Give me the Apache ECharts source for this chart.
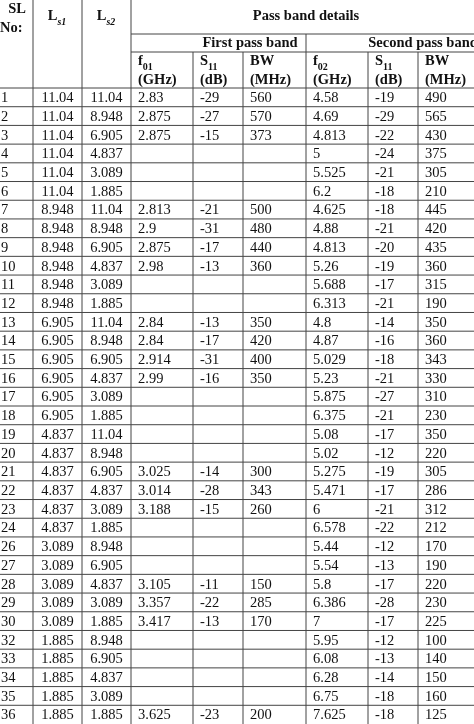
<!DOCTYPE html>
<html>
<head>
<meta charset="utf-8">
<script src="https://cdn.jsdelivr.net/npm/echarts@6/dist/echarts.min.js"></script>
<style>html,body{margin:0;padding:0;background:#fff}#chart{width:474px;height:724px}</style>
</head>
<body>
<div id="chart"></div>
<script>
// table values, one array per column
var slNo = ['1','2','3','4','5','6','7','8','9','10','11','12','13','14','15','16','17','18','19','20','21','22','23','24','26','27','28','29','30','32','33','34','35','36'];
var ls1 = ['11.04','11.04','11.04','11.04','11.04','11.04','8.948','8.948','8.948','8.948','8.948','8.948','6.905','6.905','6.905','6.905','6.905','6.905','4.837','4.837','4.837','4.837','4.837','4.837','3.089','3.089','3.089','3.089','3.089','1.885','1.885','1.885','1.885','1.885'];
var ls2 = ['11.04','8.948','6.905','4.837','3.089','1.885','11.04','8.948','6.905','4.837','3.089','1.885','11.04','8.948','6.905','4.837','3.089','1.885','11.04','8.948','6.905','4.837','3.089','1.885','8.948','6.905','4.837','3.089','1.885','8.948','6.905','4.837','3.089','1.885'];
var f01 = ['2.83','2.875','2.875','','','','2.813','2.9','2.875','2.98','','','2.84','2.84','2.914','2.99','','','','','3.025','3.014','3.188','','','','3.105','3.357','3.417','','','','','3.625'];
var s11First = ['-29','-27','-15','','','','-21','-31','-17','-13','','','-13','-17','-31','-16','','','','','-14','-28','-15','','','','-11','-22','-13','','','','','-23'];
var bwFirst = ['560','570','373','','','','500','480','440','360','','','350','420','400','350','','','','','300','343','260','','','','150','285','170','','','','','200'];
var f02 = ['4.58','4.69','4.813','5','5.525','6.2','4.625','4.88','4.813','5.26','5.688','6.313','4.8','4.87','5.029','5.23','5.875','6.375','5.08','5.02','5.275','5.471','6','6.578','5.44','5.54','5.8','6.386','7','5.95','6.08','6.28','6.75','7.625'];
var s11Second = ['-19','-29','-22','-24','-21','-18','-18','-21','-20','-19','-17','-21','-14','-16','-18','-21','-27','-21','-17','-12','-19','-17','-21','-22','-12','-13','-17','-28','-17','-12','-13','-14','-18','-18'];
var bwSecond = ['490','565','430','375','305','210','445','420','435','360','315','190','350','360','343','330','310','230','350','220','305','286','312','212','170','190','220','230','225','100','140','150','160','125'];

var cols = [slNo, ls1, ls2, f01, s11First, bwFirst, f02, s11Second, bwSecond];
var colX = [0, 33, 82, 131, 193, 243, 306, 368, 418, 474];
var FONT = '"Liberation Serif", "DejaVu Serif", serif';
var LINE = '#444';

var rows = slNo.map(function(s, i){ return [i]; });

function renderRow(params, api){
    var i = api.value(0);
    var top = api.coord([0, i])[1];
    var bot = api.coord([0, i + 1])[1];
    var mid = (top + bot) / 2 + 1;
    var kids = [];
    kids.push({type:'line', shape:{x1:0, y1:top, x2:474, y2:top}, style:{stroke:LINE, lineWidth:1}});
    for (var c = 1; c < 9; c++) {
        kids.push({type:'line', shape:{x1:colX[c], y1:top, x2:colX[c], y2:bot}, style:{stroke:LINE, lineWidth:1}});
    }
    for (var c = 0; c < 9; c++) {
        var centered = (c === 1 || c === 2);
        kids.push({type:'text', style:{
            text: cols[c][i],
            x: centered ? (colX[c] + colX[c+1]) / 2 : (c === 0 ? 1 : colX[c] + 7),
            y: mid, align: centered ? 'center' : 'left', verticalAlign:'middle',
            font: '14.5px ' + FONT, fill:'#111'
        }});
    }
    return {type:'group', children:kids};
}

var rich = {
    b:{fontFamily:FONT, fontWeight:'bold', fontSize:14.5, color:'#111'},
    s:{fontFamily:FONT, fontStyle:'italic', fontWeight:'bold', fontSize:10, color:'#111', verticalAlign:'bottom', padding:[0,0,-4,0]},
    n:{fontFamily:FONT, fontWeight:'bold', fontSize:10, color:'#111', verticalAlign:'bottom', padding:[0,0,-4,0]}
};
function txt(t, x, y, align){
    return {type:'text', style:{text:t, x:x, y:y, align:align || 'left', verticalAlign:'middle', rich:rich, font:'bold 14px ' + FONT, fill:'#111'}};
}
function ln(x1, y1, x2, y2){
    return {type:'line', shape:{x1:x1, y1:y1, x2:x2, y2:y2}, style:{stroke:LINE, lineWidth:1}};
}

var header = [
    txt('{b|SL}', 17, 9, 'center'),
    txt('{b|No:}', 0, 28),
    txt('{b|L}{s|s1}', 57, 16, 'center'),
    txt('{b|L}{s|s2}', 106, 16, 'center'),
    txt('{b|Pass band details}', 306, 16, 'center'),
    txt('{b|First pass band}', 250, 43, 'center'),
    txt('{b|Second pass band}', 423, 43, 'center'),
    txt('{b|f}{n|01}', 138, 61), txt('{b|(GHz)}', 138, 80),
    txt('{b|S}{n|11}', 200, 61), txt('{b|(dB)}', 200, 80),
    txt('{b|BW}', 250, 61), txt('{b|(MHz)}', 250, 80),
    txt('{b|f}{n|02}', 313, 61), txt('{b|(GHz)}', 313, 80),
    txt('{b|S}{n|11}', 375, 61), txt('{b|(dB)}', 375, 80),
    txt('{b|BW}', 425, 61), txt('{b|(MHz)}', 425, 80),
    ln(131, 34, 474, 34), ln(131, 52, 474, 52),
    ln(33, 0, 33, 88), ln(82, 0, 82, 88), ln(131, 0, 131, 88),
    ln(306, 34, 306, 88),
    ln(193, 52, 193, 88), ln(243, 52, 243, 88), ln(368, 52, 368, 88), ln(418, 52, 418, 88)
];

var chart = echarts.init(document.getElementById('chart'));
chart.setOption({
    animation:false,
    grid:{left:0, right:0, top:88, bottom:0},
    xAxis:{type:'value', min:0, max:474, show:false},
    yAxis:{type:'value', min:0, max:34, inverse:true, show:false},
    graphic:header,
    series:[{type:'custom', renderItem:renderRow, data:rows, encode:{y:0}, clip:false}]
});
</script>
</body>
</html>
